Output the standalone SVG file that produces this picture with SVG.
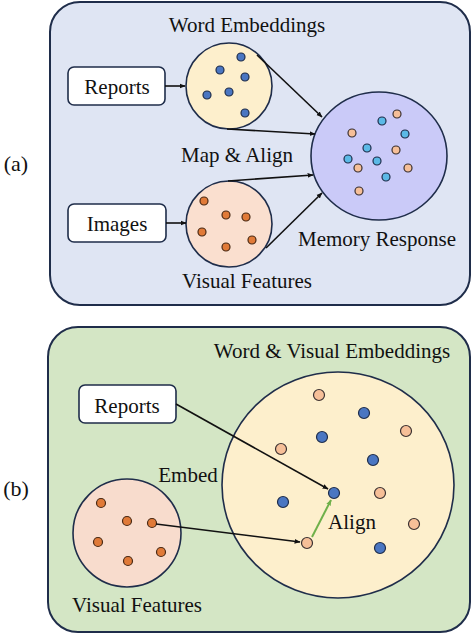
<svg xmlns="http://www.w3.org/2000/svg" width="474" height="635" viewBox="0 0 474 635">
<defs>
<marker id="ah" viewBox="0 0 10 10" refX="9" refY="5" markerWidth="6" markerHeight="6" orient="auto" markerUnits="userSpaceOnUse">
<path d="M0,1 L10,5 L0,9 Z" fill="#111"/>
</marker>
<marker id="ahg" viewBox="0 0 10 10" refX="9" refY="5" markerWidth="6" markerHeight="6" orient="auto" markerUnits="userSpaceOnUse">
<path d="M0,1 L10,5 L0,9 Z" fill="#6fb04a"/>
</marker>
<style>
text{font-family:"Liberation Serif","Times New Roman",serif;font-size:21px;fill:#111;text-anchor:middle}
.panel{stroke:#1f2d4a;stroke-width:2}
.box{fill:#fff;stroke:#1f2d4a;stroke-width:1.6}
.cir{stroke:#1f2d4a;stroke-width:1.6}
.bd{fill:#4a76c2;stroke:#1f2d4a;stroke-width:1.2}
.od{fill:#e07a38;stroke:#4a2a15;stroke-width:1.2}
.lo{fill:#f6bf98;stroke:#3a3030;stroke-width:1.2}
.cy{fill:#5bb9e6;stroke:#1f2d4a;stroke-width:1.2}
.ar{stroke:#111;stroke-width:1.6;fill:none;marker-end:url(#ah)}
.ag{stroke:#6fb04a;stroke-width:2;fill:none;marker-end:url(#ahg)}
</style>
</defs>
<rect width="474" height="635" fill="#fff"/>

<g id="label-a"><text x="16" y="171" style="font-size:22px">(a)</text></g>
<g id="label-b"><text x="16" y="496" style="font-size:22px">(b)</text></g>

<g id="panel-a">
<rect class="panel" x="50" y="2" width="420" height="303" rx="30" fill="#dfe5f3"/>
</g>

<g id="reports-a">
<rect class="box" x="68" y="67" width="97" height="38" rx="6"/>
<text x="117" y="94">Reports</text>
</g>
<g id="images-a">
<rect class="box" x="68" y="204" width="98" height="38" rx="6"/>
<text x="117" y="231">Images</text>
</g>

<g id="word-embeddings">
<circle class="cir" cx="229" cy="86" r="43" fill="#fdefcc"/>
<circle class="bd" cx="241" cy="57" r="4"/>
<circle class="bd" cx="220" cy="70" r="4"/>
<circle class="bd" cx="245" cy="77" r="4"/>
<circle class="bd" cx="207" cy="95" r="4"/>
<circle class="bd" cx="229" cy="92" r="4"/>
<circle class="bd" cx="245" cy="113" r="4"/>
<text x="247" y="32">Word Embeddings</text>
</g>

<g id="visual-features-a">
<circle class="cir" cx="229" cy="224" r="43" fill="#fadfcf"/>
<circle class="od" cx="204" cy="201" r="4"/>
<circle class="od" cx="226" cy="215" r="4"/>
<circle class="od" cx="246" cy="217" r="4"/>
<circle class="od" cx="202" cy="232" r="4"/>
<circle class="od" cx="252" cy="240" r="4"/>
<circle class="od" cx="226" cy="247" r="4"/>
<text x="247" y="288">Visual Features</text>
</g>

<g id="memory-response">
<ellipse class="cir" cx="379" cy="156" rx="68" ry="64" fill="#cacaf8"/>
<circle class="lo" cx="397" cy="114" r="4"/>
<circle class="lo" cx="352" cy="133" r="4"/>
<circle class="lo" cx="396" cy="150" r="4"/>
<circle class="lo" cx="358" cy="168" r="4"/>
<circle class="lo" cx="408" cy="168" r="4"/>
<circle class="lo" cx="359" cy="191" r="4"/>
<circle class="cy" cx="382" cy="121" r="4"/>
<circle class="cy" cx="405" cy="134" r="4"/>
<circle class="cy" cx="367" cy="148" r="4"/>
<circle class="cy" cx="348" cy="159" r="4"/>
<circle class="cy" cx="377" cy="161" r="4"/>
<circle class="cy" cx="386" cy="177" r="4"/>
<text x="377" y="246">Memory Response</text>
</g>

<g id="map-align"><text x="237" y="162">Map &amp; Align</text></g>

<g id="panel-b">
<rect class="panel" x="48" y="327" width="422" height="305" rx="30" fill="#d4e6c5"/>
</g>

<g id="word-visual-embeddings">
<ellipse class="cir" cx="338" cy="485" rx="116" ry="113" fill="#fdefcc"/>
<circle class="lo" cx="319" cy="395" r="5.5"/>
<circle class="lo" cx="406" cy="431" r="5.5"/>
<circle class="lo" cx="281" cy="449" r="5.5"/>
<circle class="lo" cx="380" cy="493" r="5.5"/>
<circle class="lo" cx="414" cy="524" r="5.5"/>
<circle class="lo" cx="307" cy="543" r="5.5"/>
<circle class="bd" cx="364" cy="413" r="5.5"/>
<circle class="bd" cx="322" cy="437" r="5.5"/>
<circle class="bd" cx="373" cy="460" r="5.5"/>
<circle class="bd" cx="334" cy="493" r="5.5"/>
<circle class="bd" cx="283" cy="502" r="5.5"/>
<circle class="bd" cx="380" cy="548" r="5.5"/>
<text x="332" y="358">Word &amp; Visual Embeddings</text>
</g>

<g id="reports-b">
<rect class="box" x="79" y="385" width="97" height="38" rx="6"/>
<text x="127" y="413">Reports</text>
</g>

<g id="visual-features-b">
<circle class="cir" cx="127" cy="533" r="54" fill="#f8dccd"/>
<circle class="od" cx="101" cy="503" r="4.5"/>
<circle class="od" cx="127" cy="521" r="4.5"/>
<circle class="od" cx="152" cy="523" r="4.5"/>
<circle class="od" cx="98" cy="542" r="4.5"/>
<circle class="od" cx="161" cy="552" r="4.5"/>
<circle class="od" cx="128" cy="561" r="4.5"/>
<text x="137" y="612">Visual Features</text>
</g>

<g id="embed-label"><text x="188" y="482">Embed</text></g>
<g id="align-label"><text x="352" y="529">Align</text></g>

<g id="connectors">
<line class="ar" x1="165" y1="86" x2="185" y2="86"/>
<line class="ar" x1="166" y1="223" x2="186" y2="223"/>
<line class="ar" x1="257" y1="55" x2="322" y2="117"/>
<line class="ar" x1="227" y1="129" x2="315" y2="134"/>
<line class="ar" x1="228" y1="181" x2="313" y2="175"/>
<line class="ar" x1="266" y1="248" x2="322" y2="193"/>
<line class="ar" x1="176" y1="404" x2="328" y2="489"/>
<line class="ar" x1="156" y1="524" x2="300" y2="542"/>
<line class="ag" x1="312" y1="537" x2="331" y2="500"/>
</g>
</svg>
